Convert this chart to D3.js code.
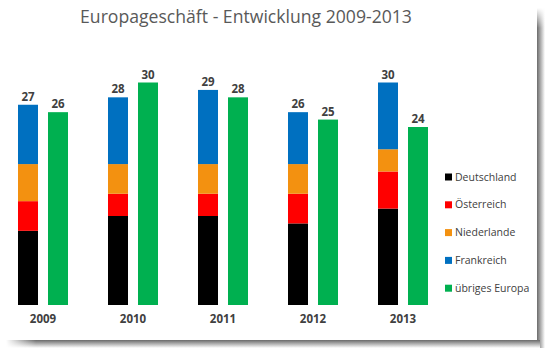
<!DOCTYPE html>
<html><head><meta charset="utf-8">
<script src="https://cdn.jsdelivr.net/npm/d3@7"></script>
<style>body{margin:0;background:#fff}svg{display:block}</style>
</head><body>
<svg id="c" width="553" height="356"></svg>
<script>
const years = ["2009","2010","2011","2012","2013"];
const stackSeries = ["Deutschland","Österreich","Niederlande","Frankreich"];
const deutschland = [10,12,12,11,13];
const oesterreich = [4,3,3,4,5];
const niederlande = [5,4,4,4,3];
const frankreich = [8,9,10,7,9];
const uebrigesEuropa = [26,30,28,25,24];
const legendLabels = ["Deutschland","Österreich","Niederlande","Frankreich","übriges Europa"];
const colors = ["#000000","#ff0000","#f39110","#0070c0","#00b050"];
const title = "Europageschäft - Entwicklung 2009-2013";

(function(){
const svg = d3.select("#c");
const defs = svg.append("defs");
const gr = defs.append("linearGradient").attr("id","gr").attr("x1","0").attr("x2","1").attr("y1","0").attr("y2","0");
gr.append("stop").attr("offset","0").attr("stop-color","#6a6a6a");
gr.append("stop").attr("offset","1").attr("stop-color","#ffffff");
const gb = defs.append("linearGradient").attr("id","gb").attr("x1","0").attr("x2","0").attr("y1","0").attr("y2","1");
gb.append("stop").attr("offset","0").attr("stop-color","#6a6a6a");
gb.append("stop").attr("offset","1").attr("stop-color","#ffffff");
const gl = defs.append("linearGradient").attr("id","gl").attr("x1","0").attr("x2","1").attr("y1","0").attr("y2","0");
gl.append("stop").attr("offset","0").attr("stop-color","#fff").attr("stop-opacity",1);
gl.append("stop").attr("offset","1").attr("stop-color","#fff").attr("stop-opacity",0);
const gt = defs.append("linearGradient").attr("id","gt").attr("x1","0").attr("x2","0").attr("y1","0").attr("y2","1");
gt.append("stop").attr("offset","0").attr("stop-color","#fff").attr("stop-opacity",1);
gt.append("stop").attr("offset","1").attr("stop-color","#fff").attr("stop-opacity",0);

// frame shadow
svg.append("rect").attr("x",537).attr("y",8).attr("width",8).attr("height",340).attr("fill","url(#gr)");
svg.append("rect").attr("x",6).attr("y",340).attr("width",534).attr("height",8).attr("fill","url(#gb)");
svg.append("rect").attr("x",6).attr("y",340).attr("width",30).attr("height",8).attr("fill","url(#gl)");
svg.append("rect").attr("x",537).attr("y",8).attr("width",8).attr("height",20).attr("fill","url(#gt)");
svg.append("rect").attr("x",0).attr("y",0).attr("width",537).attr("height",340).attr("fill","#fff");

const font = "'Open Sans', 'Noto Sans', sans-serif";
// title
const t = svg.append("text").attr("x",246).attr("y",23).attr("text-anchor","middle")
  .attr("font-family",font).attr("font-size",20).attr("fill","#595959").text(title);
const tw = t.node().getComputedTextLength();
t.attr("font-size", 20*332/tw);

const y = d3.scaleLinear().domain([0,30]).range([305,82.5]);
const x0 = d3.scaleBand().domain(years).range([-2,448]);
const x1 = d3.scaleBand().domain(["stack","other"]).range([20,70]).paddingInner(1/3);

const table = years.map((yr,i)=>({year:yr, Deutschland:deutschland[i], "Österreich":oesterreich[i], Niederlande:niederlande[i], Frankreich:frankreich[i]}));
const stacked = d3.stack().keys(stackSeries)(table);

const g = svg.append("g");
stacked.forEach((s,si)=>{
  g.selectAll(null).data(s).enter().append("rect")
    .attr("x",d=>x0(d.data.year)+x1("stack"))
    .attr("width",x1.bandwidth())
    .attr("y",d=>y(d[1]))
    .attr("height",d=>y(d[0])-y(d[1]))
    .attr("fill",colors[si]);
});
g.selectAll(null).data(years).enter().append("rect")
  .attr("x",d=>x0(d)+x1("other"))
  .attr("width",x1.bandwidth())
  .attr("y",(d,i)=>y(uebrigesEuropa[i]))
  .attr("height",(d,i)=>y(0)-y(uebrigesEuropa[i]))
  .attr("fill",colors[4]);

const topLayer = stacked[stacked.length-1];
g.selectAll(null).data(topLayer).enter().append("text")
  .attr("x",d=>x0(d.data.year)+x1("stack")+x1.bandwidth()/2)
  .attr("y",d=>y(d[1])-4)
  .attr("text-anchor","middle").attr("font-family",font).attr("font-weight","bold")
  .attr("font-size",11.5).attr("fill","#404040").text(d=>d[1]);
g.selectAll(null).data(years).enter().append("text")
  .attr("x",d=>x0(d)+x1("other")+x1.bandwidth()/2)
  .attr("y",(d,i)=>y(uebrigesEuropa[i])-4)
  .attr("text-anchor","middle").attr("font-family",font).attr("font-weight","bold")
  .attr("font-size",11.5).attr("fill","#404040").text((d,i)=>uebrigesEuropa[i]);

// x axis labels
const xa = svg.append("g").attr("transform","translate(0,312)")
  .call(d3.axisBottom(x0).tickSize(0).tickPadding(0));
xa.select(".domain").remove();
xa.selectAll("text").attr("font-family",font).attr("font-weight","bold").attr("font-size",11.5)
  .attr("fill","#404040").attr("dy","0.95em");

// legend
const lg = svg.append("g");
legendLabels.forEach((l,i)=>{
  const yy = 177 + i*27.8;
  lg.append("rect").attr("x",445).attr("y",yy-3.5).attr("width",7).attr("height",7).attr("fill",colors[i]);
  lg.append("text").attr("x",455).attr("y",yy).attr("dy","0.35em").attr("font-family",font)
    .attr("font-size",10.5).attr("fill","#404040").text(l);
});
})();
</script>
</body></html>
